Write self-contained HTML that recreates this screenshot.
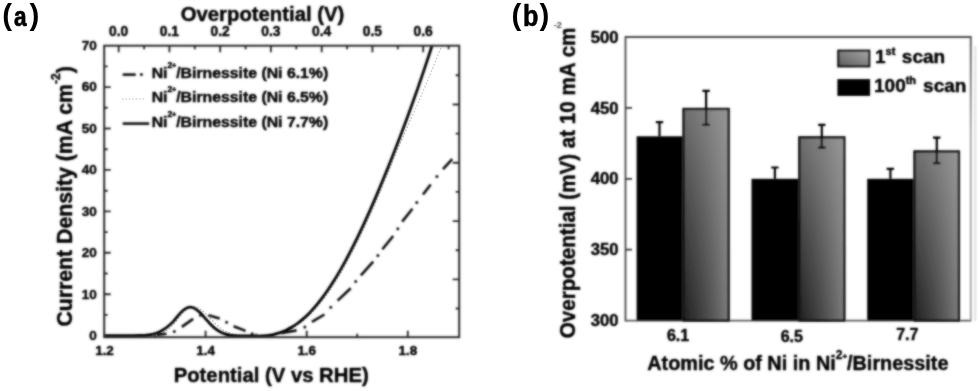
<!DOCTYPE html>
<html lang="en"><head><meta charset="utf-8"><title>Figure: Ni2+/Birnessite OER activity</title>
<style>
html,body{margin:0;padding:0;background:#fff;}
body{width:979px;height:391px;overflow:hidden;}
svg{display:block;font-family:"Liberation Sans",Arial,sans-serif;font-weight:bold;fill:#000;}
text{stroke:#000;stroke-width:0.45px;stroke-linejoin:round;}
.ax{stroke:#2a2a2a;stroke-width:2.0;fill:none;}
.tk{stroke:#2a2a2a;stroke-width:1.9;fill:none;}
.bx{stroke:#4a4a4a;stroke-width:1.8;fill:none;}
.t20{font-size:21px;}
</style></head><body>
<svg width="979" height="391" viewBox="0 0 979 391">
<defs>
<filter id="soft" x="-2%" y="-2%" width="104%" height="104%"><feGaussianBlur in="SourceGraphic" stdDeviation="0.9" result="b"/><feComposite in="SourceGraphic" in2="b" operator="arithmetic" k1="0" k2="0.25" k3="0.75" k4="0"/></filter>
<filter id="soft2" x="-2%" y="-2%" width="104%" height="104%"><feGaussianBlur stdDeviation="0.45"/></filter>
<linearGradient id="gh" x1="0" y1="0" x2="1" y2="0"><stop offset="0" stop-color="#707070"/><stop offset="1" stop-color="#9c9c9c"/></linearGradient>
<linearGradient id="gv1" x1="0" y1="0" x2="0" y2="1"><stop offset="0" stop-color="#000" stop-opacity="0"/><stop offset="1" stop-color="#000" stop-opacity="0.17"/></linearGradient>
<linearGradient id="gv2" x1="0" y1="0" x2="0" y2="1"><stop offset="0" stop-color="#000" stop-opacity="0"/><stop offset="1" stop-color="#000" stop-opacity="0.66"/></linearGradient>
<linearGradient id="gm" x1="0" y1="0" x2="1" y2="0"><stop offset="0" stop-color="#fff"/><stop offset="1" stop-color="#000"/></linearGradient>
<mask id="mL" maskContentUnits="objectBoundingBox"><rect width="1" height="1" fill="url(#gm)"/></mask>
<linearGradient id="gR" gradientUnits="userSpaceOnUse" x1="0" y1="37" x2="0" y2="130"><stop offset="0" stop-color="#606060"/><stop offset="1" stop-color="#a8a8a8"/></linearGradient>
<linearGradient id="gleg" x1="0" y1="1" x2="1" y2="0"><stop offset="0" stop-color="#5a5a5a"/><stop offset="1" stop-color="#a8a8a8"/></linearGradient>
<pattern id="hatch" width="2.4" height="2.4" patternUnits="userSpaceOnUse" patternTransform="rotate(45)"><rect width="3" height="3" fill="none"/><line x1="0" y1="0" x2="0" y2="3" stroke="#000" stroke-opacity="0.09" stroke-width="1"/></pattern>
<clipPath id="clipA"><rect x="104.2" y="45.7" width="355" height="292"/></clipPath>
</defs>
<rect width="979" height="391" fill="#fff"/>
<g filter="url(#soft2)" fill="none" stroke="#c4c4c4" stroke-width="1.15" stroke-dasharray="1.7 1.7">
<path d="M150 335 C150.8 335 153.3 335.3 155 335.1 C156.7 334.9 158.3 334.5 160 333.9 C161.7 333.3 163.3 332.6 165 331.5 C166.7 330.5 168.3 329.3 170 327.8 C171.7 326.3 173.3 324.4 175 322.5 C176.7 320.6 178.3 318.3 180 316.4 C181.7 314.4 183.3 312.3 185 310.7 C186.7 309.2 188.3 307.8 190 307.1 C191.7 306.5 193.3 306.4 195 306.7 C196.7 307 198.3 307.8 200 308.9 C201.7 309.9 203.3 311.5 205 313 C206.7 314.5 208.3 316.4 210 318.1 C211.7 319.8 213.3 321.6 215 323.2 C216.7 324.8 218.3 326.4 220 327.6 C221.7 328.9 223.3 330.1 225 331 C226.7 331.9 228.3 332.6 230 333.2 C231.7 333.8 233.3 334.3 235 334.6 C236.7 335 238.3 335.2 240 335.4 C241.7 335.5 243.3 335.6 245 335.7 C246.7 335.8 248.3 335.9 250 335.9 C251.7 335.9 253.3 335.9 255 336 C256.7 336 257.5 336.1 260 336 C262.5 335.9 267.3 335.6 270 335.4 C272.7 335.1 274 334.7 276 334.3 C278 333.8 280 333.2 282 332.6 C284 331.9 286 331.1 288 330.2 C290 329.2 292 328.2 294 327 C296 325.8 298 324.5 300 323 C302 321.5 304 319.9 306 318.1 C308 316.4 310 314.4 312 312.4 C314 310.3 316 308.1 318 305.7 C320 303.4 322 300.8 324 298.2 C326 295.5 328 292.7 330 289.8 C332 286.9 334 283.8 336 280.6 C338 277.4 340 274 342 270.6 C344 267.1 346 263.5 348 259.8 C350 256.1 352 252.3 354 248.4 C356 244.4 358 240.4 360 236.3 C362 232.1 364 227.9 366 223.6 C368 219.2 370 214.8 372 210.3 C374 205.8 376 201.2 378 196.6 C380 191.9 382 187.1 384 182.3 C386 177.5 388 172.6 390 167.6 C392 162.7 393.8 157.6 396 152.5 C398.2 147.4 400.6 142.2 403 137 C405.3 131.7 407.7 126.4 410.1 121 C412.5 115.6 415 110.1 417.4 104.6 C419.8 99 422.2 93.4 424.6 87.6 C427 81.9 429.5 76.1 431.9 70.1 C434.4 64.2 436.8 58.1 439.3 52 C441.7 45.8 444.2 39.5 446.7 33 C449.1 26.5 451.6 19.9 454.1 13.1 C456.6 6.3 460.4 -4.3 461.7 -7.8" clip-path="url(#clipA)"/>
<path d="M122 99h24"/>
</g>
<g filter="url(#soft)">
<!-- panel (a): polarization curves -->
<text class="t20" x="262.5" y="21.3" text-anchor="middle" textLength="163.5" lengthAdjust="spacingAndGlyphs">Overpotential (V)</text>
<text x="118.7" y="36" font-size="13.8" text-anchor="middle">0.0</text>
<text x="169.4" y="36" font-size="13.8" text-anchor="middle">0.1</text>
<text x="220.2" y="36" font-size="13.8" text-anchor="middle">0.2</text>
<text x="270.9" y="36" font-size="13.8" text-anchor="middle">0.3</text>
<text x="321.7" y="36" font-size="13.8" text-anchor="middle">0.4</text>
<text x="372.4" y="36" font-size="13.8" text-anchor="middle">0.5</text>
<text x="423.2" y="36" font-size="13.8" text-anchor="middle">0.6</text>
<text x="96.8" y="339.9" font-size="13.5" text-anchor="end">0</text>
<text x="96.8" y="298.5" font-size="13.5" text-anchor="end">10</text>
<text x="96.8" y="257.1" font-size="13.5" text-anchor="end">20</text>
<text x="96.8" y="215.7" font-size="13.5" text-anchor="end">30</text>
<text x="96.8" y="174.2" font-size="13.5" text-anchor="end">40</text>
<text x="96.8" y="132.8" font-size="13.5" text-anchor="end">50</text>
<text x="96.8" y="91.4" font-size="13.5" text-anchor="end">60</text>
<text x="96.8" y="50" font-size="13.5" text-anchor="end">70</text>
<text x="104.5" y="355" font-size="13.4" text-anchor="middle">1.2</text>
<text x="205.6" y="355" font-size="13.4" text-anchor="middle">1.4</text>
<text x="306.7" y="355" font-size="13.4" text-anchor="middle">1.6</text>
<text x="407.8" y="355" font-size="13.4" text-anchor="middle">1.8</text>
<text class="t20" x="271.2" y="381.9" text-anchor="middle" textLength="195" lengthAdjust="spacingAndGlyphs">Potential (V vs RHE)</text>
<text font-size="22" transform="translate(71.8 326.6) rotate(-90)" textLength="260.4" lengthAdjust="spacingAndGlyphs">Current Density (mA cm<tspan font-size="12.5" dy="-12">-2</tspan><tspan dy="12">)</tspan></text>
<g clip-path="url(#clipA)" fill="none" stroke-linecap="butt">
<path d="M104.5 335.6 C107.9 335.6 119.1 335.6 125 335.6 C130.9 335.6 136.4 335.5 140 335.4 C143.6 335.3 144.4 335.3 146.6 335.1 C148.8 334.9 151.5 334.6 153.3 334.2 C155.1 333.8 156 333.4 157.3 332.8 C158.6 332.2 159.6 331.8 161.2 330.9 C162.8 330 164.6 329.1 166.6 327.5 C168.6 325.9 171 323.9 173.2 321.6 C175.4 319.3 177.8 315.7 179.8 313.6 C181.8 311.5 183.5 310 185.2 308.9 C186.9 307.8 188.6 307.2 190.2 307.2 C191.8 307.2 193.4 307.7 195 308.6 C196.6 309.5 198.3 311 200 312.6 C201.7 314.2 203.3 316.2 205 318.1 C206.7 319.9 208.3 322 210 323.7 C211.7 325.4 213.3 327 215 328.4 C216.7 329.7 218.3 330.9 220 331.8 C221.7 332.7 223.3 333.4 225 333.9 C226.7 334.5 228.3 334.8 230 335.1 C231.7 335.4 233.3 335.5 235 335.6 C236.7 335.8 238.3 335.8 240 335.9 C241.7 335.9 243.3 335.9 245 336 C246.7 336 248.3 336 250 336 C251.7 336 253 336 255 336 C257 336 259.8 336.1 262 336 C264.2 335.9 266 335.6 268 335.4 C270 335.1 272 334.7 274 334.3 C276 333.8 278 333.2 280 332.6 C282 331.9 284 331.1 286 330.2 C288 329.2 290 328.2 292 327 C294 325.8 296 324.5 298 323 C300 321.5 302 319.9 304 318.1 C306 316.4 308 314.4 310 312.4 C312 310.3 314 308.1 316 305.7 C318 303.4 320 300.8 322 298.2 C324 295.5 326 292.7 328 289.8 C330 286.9 332 283.8 334 280.6 C336 277.4 338 274 340 270.6 C342 267.1 344 263.5 346 259.8 C348 256.1 350 252.3 352 248.4 C354 244.4 356 240.4 358 236.3 C360 232.1 362 227.9 364 223.6 C366 219.2 368 214.8 370 210.3 C372 205.8 374 201.2 376 196.6 C378 191.9 380 187.1 382 182.3 C384 177.5 386 172.6 388 167.6 C390 162.7 392 157.6 394 152.5 C396 147.4 398 142.2 400 137 C402 131.7 404 126.4 406 121 C408 115.6 410 110.1 412 104.6 C414 99 416 93.4 418 87.6 C420 81.9 422 76.1 424 70.1 C426 64.2 428 58.1 430 52 C432 45.8 435 36.2 436 33" stroke="#000" stroke-width="2.8"/>
<path d="M157 334.8L166.5 333.8M181.8 326.9L193.1 318.9M208.4 315.2L219.7 318.6M233.6 326.2L245.6 330.9M281.2 333.3L296.6 330.4M311.9 321.8L324.4 314.5M337.6 300.6L350.7 288.3M360.9 275.4L373.2 261.7M382.4 249.2L393.2 236M402.2 221.6L412.4 208.8M423 194.5L430.7 184.5M443 169.2L452.2 159.2" stroke="#111" stroke-width="2.6"/>
<path d="M174.3 331.5h0.01M200.4 315.2h0.01M226.6 322.2h0.01M252.2 333.8h0.01M304.8 327h0.01M330.8 307.3h0.01M355.7 281.5h0.01M377.9 255.6h0.01M397.8 228.8h0.01M416.8 202.4h0.01M436.9 176.6h0.01" stroke="#111" stroke-width="3" stroke-linecap="round"/>
</g>
<rect class="ax" x="104.2" y="45.7" width="355" height="291.5"/>
<path class="tk" d="M118.7 45.7v6.5M144.1 45.7v3.5M169.4 45.7v6.5M194.8 45.7v3.5M220.2 45.7v6.5M245.6 45.7v3.5M270.9 45.7v6.5M296.3 45.7v3.5M321.7 45.7v6.5M347.1 45.7v3.5M372.4 45.7v6.5M397.8 45.7v3.5M423.2 45.7v6.5M448.6 45.7v3.5M155.1 337.2v-3.5M205.6 337.2v-6.5M256.1 337.2v-3.5M306.7 337.2v-6.5M357.2 337.2v-3.5M407.8 337.2v-6.5M104.2 314.9h3.5M104.2 294.2h6.5M104.2 273.5h3.5M104.2 252.8h6.5M104.2 232.1h3.5M104.2 211.4h6.5M104.2 190.7h3.5M104.2 169.9h6.5M104.2 149.2h3.5M104.2 128.5h6.5M104.2 107.8h3.5M104.2 87.1h6.5M104.2 66.4h3.5M459.2 75.3h-3.5M459.2 104.5h-6.5M459.2 133.6h-3.5M459.2 162.8h-6.5M459.2 191.9h-3.5M459.2 221.1h-6.5M459.2 250.2h-3.5M459.2 279.4h-6.5M459.2 308.5h-3.5"/>
<text x="151.7" y="78.3" font-size="15.5" textLength="176.5" lengthAdjust="spacingAndGlyphs">Ni<tspan font-size="8.5" dy="-10">2</tspan><tspan font-size="6.5">+</tspan><tspan dy="10">/Birnessite (Ni 6.1%)</tspan></text>
<text x="151.7" y="102.3" font-size="15.5" textLength="176.5" lengthAdjust="spacingAndGlyphs">Ni<tspan font-size="8.5" dy="-10">2</tspan><tspan font-size="6.5">+</tspan><tspan dy="10">/Birnessite (Ni 6.5%)</tspan></text>
<text x="151.7" y="126.8" font-size="15.5" textLength="176.5" lengthAdjust="spacingAndGlyphs">Ni<tspan font-size="8.5" dy="-10">2</tspan><tspan font-size="6.5">+</tspan><tspan dy="10">/Birnessite (Ni 7.7%)</tspan></text>
<path d="M122.7 74.6h13" stroke="#111" stroke-width="2.6" fill="none"/>
<path d="M141.4 74.6h0.01" stroke="#111" stroke-width="3" stroke-linecap="round" fill="none"/>
<path d="M122.7 123.6h26.5" stroke="#111" stroke-width="2.6" fill="none"/>
<!-- panel (b): bar chart -->
<text font-size="22" transform="translate(574.8 338.2) rotate(-90)" textLength="310.6" lengthAdjust="spacingAndGlyphs">Overpotential (mV) at 10 mA cm</text>
<text x="553.8" y="27.6" font-size="9" fill="#3c3c3c" style="stroke:none">-2</text>
<text x="618.4" y="42.6" font-size="16.6" text-anchor="end">500</text>
<text x="618.4" y="113.5" font-size="16.6" text-anchor="end">450</text>
<text x="618.4" y="184.4" font-size="16.6" text-anchor="end">400</text>
<text x="618.4" y="255.3" font-size="16.6" text-anchor="end">350</text>
<text x="618.4" y="326.2" font-size="16.6" text-anchor="end">300</text>
<text x="678" y="341" font-size="16" text-anchor="middle">6.1</text>
<text x="791.8" y="342" font-size="16" text-anchor="middle">6.5</text>
<text x="907.3" y="339.6" font-size="16" text-anchor="middle">7.7</text>
<text font-size="20" x="647.2" y="369.6" textLength="301.3" lengthAdjust="spacingAndGlyphs">Atomic % of Ni in Ni<tspan font-size="12" dy="-10.7">2</tspan><tspan font-size="8">+</tspan><tspan dy="10.7">/Birnessite</tspan></text>
<path class="bx" d="M625.5 321.5V36.1"/>
<path class="bx" stroke="#505050" d="M625.5 37H971.7"/>
<rect x="969.8" y="37" width="2" height="284.5" fill="url(#gR)"/>
<path class="bx" style="stroke:#5a5a5a" d="M625.5 320.6H970.8"/>
<path d="M975.2 46V321" stroke="#e0e0e0" stroke-width="2" fill="none"/>
<path d="M625.5 107.9h6.5M625.5 178.8h6.5M625.5 249.7h6.5" stroke="#333" stroke-width="1.7" fill="none"/>
<rect x="636.6" y="136.3" width="45.9" height="184.3" fill="#000"/>
<rect x="682.5" y="107.9" width="47.2" height="212.7" fill="url(#gh)"/><rect x="682.5" y="107.9" width="47.2" height="212.7" fill="url(#gv1)"/><rect x="682.5" y="107.9" width="47.2" height="212.7" fill="url(#gv2)" mask="url(#mL)"/>
<rect x="683.6" y="109" width="45" height="211.6" fill="none" stroke="#0c0c0c" stroke-width="2.3"/>
<path d="M659.5 136.3V122.1 M655.8 122.1h7.4M706.1 124.9V90.9 M702.4 90.9h7.4 M702.4 124.9h7.4" stroke="#000" stroke-width="2.2" fill="none"/>
<rect x="751.5" y="178.8" width="46.8" height="141.8" fill="#000"/>
<rect x="798.3" y="136.3" width="47.1" height="184.3" fill="url(#gh)"/><rect x="798.3" y="136.3" width="47.1" height="184.3" fill="url(#gv1)"/><rect x="798.3" y="136.3" width="47.1" height="184.3" fill="url(#gv2)" mask="url(#mL)"/>
<rect x="799.4" y="137.4" width="44.9" height="183.2" fill="none" stroke="#0c0c0c" stroke-width="2.3"/>
<path d="M774.9 178.8V167.5 M771.2 167.5h7.4M821.8 147.6V124.9 M818.1 124.9h7.4 M818.1 147.6h7.4" stroke="#000" stroke-width="2.2" fill="none"/>
<rect x="867.2" y="178.8" width="46.3" height="141.8" fill="#000"/>
<rect x="913.5" y="150.4" width="46.5" height="170.2" fill="url(#gh)"/><rect x="913.5" y="150.4" width="46.5" height="170.2" fill="url(#gv1)"/><rect x="913.5" y="150.4" width="46.5" height="170.2" fill="url(#gv2)" mask="url(#mL)"/>
<rect x="914.6" y="151.5" width="44.3" height="169.1" fill="none" stroke="#0c0c0c" stroke-width="2.3"/>
<path d="M890.4 178.8V168.9 M886.6 168.9h7.4M936.8 163.2V137.7 M933 137.7h7.4 M933 163.2h7.4" stroke="#000" stroke-width="2.2" fill="none"/>
<rect x="838.3" y="50.7" width="30.9" height="15.6" fill="url(#gleg)" stroke="#0c0c0c" stroke-width="2.2"/>
<rect x="837.4" y="79.1" width="32.7" height="16.8" fill="#000"/>
<text x="875" y="63.4" font-size="19">1<tspan font-size="11" dy="-8">st</tspan><tspan dy="8" dx="6.5">scan</tspan></text>
<text x="874" y="92" font-size="19">100<tspan font-size="11" dy="-8">th</tspan><tspan dy="8" dx="7">scan</tspan></text>
</g>
<text y="25.2" font-size="29.5" style="stroke:none"><tspan x="2.3">(</tspan><tspan x="13.9" y="25.6" font-size="28" textLength="12.6" lengthAdjust="spacingAndGlyphs" style="stroke:#000;stroke-width:0.7px">a</tspan><tspan x="29.6" y="25.2" font-size="29.5">)</tspan></text>
<text y="25.2" font-size="29.5" style="stroke:none"><tspan x="511.4">(</tspan><tspan x="523.1" y="25.6" font-size="29.6" textLength="15.4" lengthAdjust="spacingAndGlyphs" style="stroke:#000;stroke-width:0.6px">b</tspan><tspan x="539.5" y="25.2" font-size="29.5">)</tspan></text>
<g fill="url(#hatch)">
<rect x="684.7" y="110.1" width="42.8" height="209.7"/>
<rect x="800.5" y="138.5" width="42.7" height="181.3"/>
<rect x="915.7" y="152.6" width="42.1" height="167.2"/>
</g>
</svg>
</body></html>
